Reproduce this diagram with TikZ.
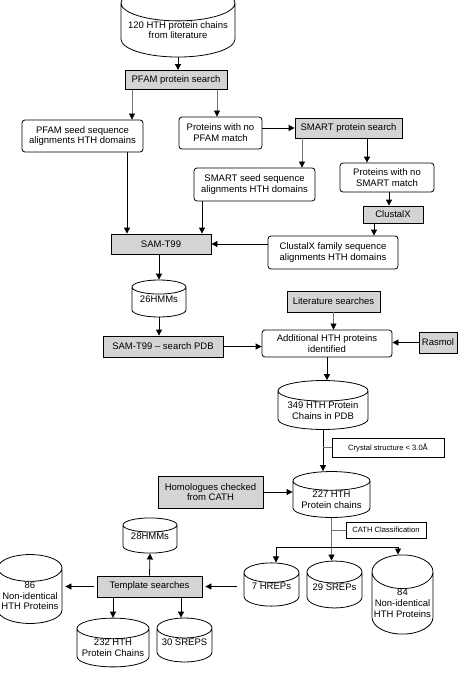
\documentclass[tikz,border=0pt]{standalone}
\usepackage{fontspec}
\setmainfont{Liberation Sans}
\usetikzlibrary{shapes.geometric,arrows.meta}

\begin{document}
\begin{tikzpicture}[x=1pt,y=-1pt,line width=0.8pt,
  font=\fontsize{9.5}{10.8}\selectfont,
  sz/.style 2 args={minimum width=#1pt,minimum height=#2pt},
  proc/.style={draw,fill=black!17,inner sep=0pt,align=center},
  stepbox/.style={draw,rounded corners=3pt,inner sep=0pt,align=center},
  note/.style={draw,inner sep=0pt,font=\fontsize{7.6}{9}\selectfont},
  db/.style={draw,cylinder,shape border rotate=90,aspect=#1,inner sep=0pt,align=center,anchor=shape center},
  db/.default=0.4,
  lift/.style={text depth=7pt},
  arr/.style={-{Triangle[length=6pt,width=6pt,color=black]}},
  garr/.style={arr,draw=black!55,line width=0.5pt},
  tie/.style={draw=black!55,line width=0.5pt}]
\useasboundingbox (0,0) rectangle (474,680);
 % search stage
 \node[db=0.36,sz={114}{46}] (lit) at (178,21) {120 HTH protein chains\\from literature};
 \node[proc,sz={102}{19}] (pfam) at (176,80) {PFAM protein search};
 \node[stepbox,sz={121}{32}] (pfamseed) at (82.5,136) {PFAM seed sequence\\alignments HTH domains};
 \node[stepbox,sz={83}{32}] (nopfam) at (220.5,133) {Proteins with no\\PFAM match};
 \node[proc,sz={107}{20}] (smart) at (348.5,128) {SMART protein search};
 \node[stepbox,sz={121}{33}] (smartseed) at (254.5,184.5) {SMART seed sequence\\alignments HTH domains};
 \node[stepbox,sz={94}{29}] (nosmart) at (387,177.5) {Proteins with no\\SMART match};
 \node[proc,sz={60}{17}] (clustalx) at (393,214.5) {ClustalX};
 \node[proc,sz={100}{20}] (sam) at (161,244) {SAM-T99};
 \node[stepbox,sz={130}{33}] (clufam) at (333,252.5) {ClustalX family sequence\\alignments HTH domains};
 \node[db=0.37,lift,sz={54}{37}] (hmm26) at (159,298.5) {26HMMs};
 \node[proc,sz={120}{21}] (samsearch) at (163,346.5) {SAM-T99 – search PDB};
 \node[proc,sz={93}{21}] (litsearch) at (333.5,301.5) {Literature searches};
 \node[stepbox,sz={130}{27}] (addl) at (327,343.5) {Additional HTH proteins\\identified};
 \node[proc,sz={38}{21}] (rasmol) at (438,342.5) {Rasmol};
 % PDB chains
 \node[db=0.29,sz={90}{46}] (pdb349) at (323,405) {349 HTH Protein\\Chains in PDB};
 \node[note,sz={112}{19}] (crystal) at (388,447.5) {Crystal structure < 3.0Å};
 \node[db=0.31,sz={77}{45}] (cath227) at (331.5,494.5) {227 HTH\\Protein chains};
 \node[proc,sz={105}{32}] (homol) at (210.5,492) {Homologues checked\\from CATH};
 \node[note,sz={80}{16}] (cathcls) at (386,530) {CATH Classification};
 \node[db=0.5,lift,sz={55}{37}] (hreps7) at (271.5,584.5) {7 HREPs};
 \node[db=0.5,lift,sz={55}{37}] (sreps29) at (334.5,584.5) {29 SREPs};
 \node[db=0.59,sz={61}{65}] (nonid84) at (402.5,594.5) {84\\Non-identical\\HTH Proteins};
 % templates
 \node[proc,sz={105}{21}] (template) at (149.5,586.5) {Template searches};
 \node[db=0.37,lift,sz={54}{31}] (hmm28) at (150,535.5) {28HMMs};
 \node[db=0.47,sz={64}{60}] (nonid86) at (30,589) {86\\Non-identical\\HTH Proteins};
 \node[db=0.33,sz={72}{41}] (chains232) at (113,642.5) {232 HTH\\Protein Chains};
 \node[db=0.44,lift,sz={55}{36}] (sreps30) at (184.5,640) {30 SREPS};
 % arrows
 \draw[arr] (lit.south) -- (lit.south |- pfam.north);
 \draw[garr] ([xshift=-44pt]pfam.south) -- ([xshift=-44pt]pfam.south |- pfamseed.north);
 \draw[garr] ([xshift=41pt]pfam.south) -- ([xshift=41pt]pfam.south |- nopfam.north);
 \draw[arr] (nopfam.east |- smart.west) -- (smart.west);
 \draw[garr] ([xshift=-46.5pt]smart.south) -- ([xshift=-46.5pt]smart.south |- smartseed.north);
 \draw[arr] ([xshift=18.5pt]smart.south) -- ([xshift=18.5pt]smart.south |- nosmart.north);
 \draw[arr] ([xshift=2pt]nosmart.south) -- ([xshift=2pt]nosmart.south |- clustalx.north);
 \draw[arr] ([xshift=-19pt]clustalx.south) -- ([xshift=-19pt]clustalx.south |- clufam.north);
 \draw[arr] ([xshift=44.5pt]pfamseed.south) -- ([xshift=44.5pt]pfamseed.south |- sam.north);
 \draw[arr] ([xshift=-52.5pt]smartseed.south) -- ([xshift=-52.5pt]smartseed.south |- sam.north);
 \draw[arr] (clufam.west |- sam.east) -- (sam.east);
 \draw[arr] (hmm26.north |- sam.south) -- (hmm26.north);
 \draw[arr] (hmm26.south) -- (hmm26.south |- samsearch.north);
 \draw[arr] (samsearch.east) -- (samsearch.east -| addl.west);
 \draw[garr] (litsearch.south) -- (litsearch.south |- addl.north);
 \draw[arr] (rasmol.west) -- (rasmol.west -| addl.east);
 \draw[arr] (addl.south) -- (addl.south |- pdb349.north);
 \draw[arr] (pdb349.south) -- (pdb349.south |- cath227.north);
 \draw[tie] (crystal.west) -- (crystal.west -| pdb349.south);
 \draw[arr] (homol.east) -- (homol.east -| cath227.west);
 \coordinate (split) at ([yshift=-30pt]cath227.south);
 \draw[tie] (cath227.south) -- (split);
 \draw[tie] (cathcls.west) -- (cathcls.west -| cath227.south);
 \draw[arr] (split) -| ([xshift=4.5pt]hreps7.north);
 \draw[arr] (split) -| ([xshift=-4.5pt]nonid84.north);
 \draw[garr] (split) -- (split |- sreps29.north);
 \draw[arr,shorten <=7pt,shorten >=3pt] (hreps7.west |- template.east) -- (template.east);
 \draw[arr] (template.north) -- (hmm28.south);
 \draw[arr,shorten <=3pt,shorten >=3pt] (template.west) -- (template.west -| nonid86.east);
 \draw[arr] (chains232.north |- template.south) -- (chains232.north);
 \draw[arr] ([xshift=-3.5pt]sreps30.north |- template.south) -- ([xshift=-3.5pt]sreps30.north);
\end{tikzpicture}
\end{document}
